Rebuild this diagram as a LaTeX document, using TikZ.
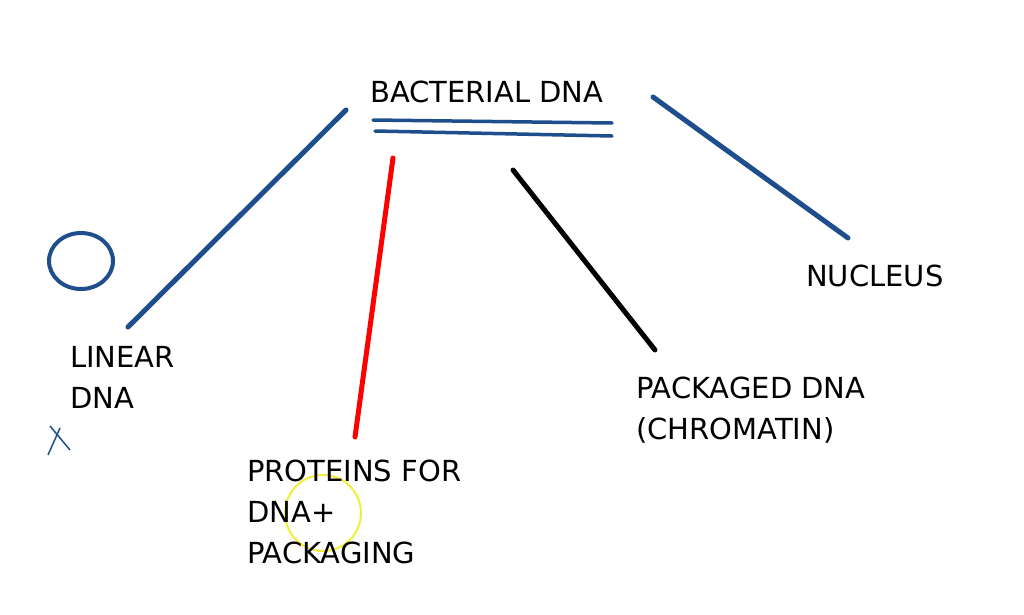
\documentclass[tikz,border=0pt]{standalone}
\usepackage{fontspec}
\setmainfont{DejaVu Sans}
\definecolor{pblue}{HTML}{1F4E8C}
\definecolor{pyel}{HTML}{F2EE3A}
\begin{document}
\begin{tikzpicture}[x=1pt,y=-1pt,
  lbl/.style={anchor=west,inner sep=0pt,font=\fontsize{29}{32}\selectfont},
  stroke/.style={line width=5pt,line cap=round}]
\useasboundingbox[fill=white] (0,0) rectangle (1024,614);
\node[lbl] (bact) at (370,92) {BACTERIAL DNA};
\draw[pblue,line width=3.5pt,line cap=round] (373,120) -- (612,123);
\draw[pblue,line width=3.5pt,line cap=round] (375,131) -- (612,136);
\draw[stroke,pblue] (346,110) -- (128,327);
\draw[stroke,red] (393,158) -- (355,437);
\draw[stroke,black] (513,170) -- (655,350);
\draw[stroke,pblue] (653,97) -- (848,238);
\draw[pblue,line width=4pt] (81,261) ellipse (32 and 28);
\node[lbl] (lin1) at (70,357) {LINEAR};
\node[lbl] (lin2) at (70,398) {DNA};
\draw[pblue,line width=1.5pt] (50,426) -- (70,450) (48,455) -- (60,428);
\draw[pyel,line width=2pt] (323,513) circle (38);
\node[lbl] (p1) at (247,471) {PROTEINS FOR};
\node[lbl] (p2) at (247,512) {DNA+};
\node[lbl] (p3) at (247,553) {PACKAGING};
\node[lbl] (c1) at (636,388) {PACKAGED DNA};
\node[lbl] (c2) at (636,430) {(CHROMATIN)};
\node[lbl] (nuc) at (806,276) {NUCLEUS};
\end{tikzpicture}
\end{document}
